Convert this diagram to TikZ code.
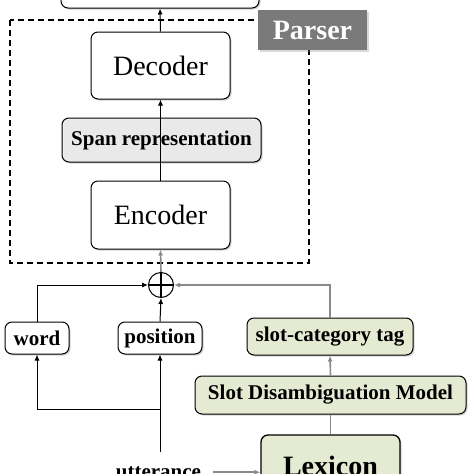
\documentclass[tikz,border=0pt]{standalone}
\usepackage{fontspec}
\setmainfont{Liberation Serif}
\usetikzlibrary{arrows.meta,positioning,calc,shadows}

\definecolor{slotgreen}{RGB}{229,235,211}
\definecolor{parsergray}{RGB}{122,122,122}
\definecolor{linkgray}{RGB}{138,138,138}
\definecolor{spangray}{RGB}{238,238,238}

\begin{document}
\begin{tikzpicture}[x=1pt,y=-1pt,
	box/.style={draw, rounded corners=7pt, line width=1pt, fill=white, inner sep=0pt,
		drop shadow={shadow xshift=1.5pt, shadow yshift=-1.5pt, opacity=0.35, fill=gray}},
	bigbox/.style={box, font=\fontsize{28}{32}\selectfont},
	tagbox/.style={box, font=\fontsize{21}{25}\selectfont\bfseries},
	greenbox/.style={tagbox, fill=slotgreen},
	blk/.style={-{Latex[length=6pt,width=5pt]}, line width=1pt},
	gry/.style={-{Latex[length=6pt,width=5pt]}, line width=1.6pt, linkgray},
	gryline/.style={line width=1.6pt, linkgray}]
			\useasboundingbox (0,0) rectangle (474,474);
			\clip (0,0) rectangle (474,474);
			
			% Parser frame
			\draw[line width=1.4pt, dash pattern=on 6pt off 4pt] (10,20) rectangle (309,263);
			\node[fill=parsergray, text=white, font=\fontsize{28}{32}\selectfont\bfseries,
				minimum width=109pt, minimum height=40pt, inner sep=0pt,
				drop shadow={shadow xshift=1.5pt, shadow yshift=-1.5pt, opacity=0.3, fill=gray}]
				(parser) at (312.5,30) {Parser};
			
			% Parser blocks
			\node[box, minimum width=198pt, minimum height=40pt] (output) at (160,-12) {};
			\node[bigbox, minimum width=139pt, minimum height=67pt] (decoder) at (160.5,65.5) {Decoder};
			\node[bigbox, minimum width=139pt, minimum height=68pt] (encoder) at (160.5,215) {Encoder};
			\draw[blk] (encoder.north) -- (decoder.south);
			\node[tagbox, fill=spangray, fill opacity=0.85, text opacity=1, minimum width=199pt, minimum height=44pt] (span) at (161.5,140) {Span representation};
			\draw[line width=1pt] (span.north -| encoder.north) -- (span.south -| encoder.north);
			\draw[blk] (decoder.north) -- (output.south);
			
			% Sum of embeddings
			\node[circle, draw, line width=1pt, fill=white, minimum size=25pt, inner sep=0pt] (sum) at (161,285) {};
			\draw[line width=1.2pt] (sum.north) -- (sum.south) (sum.west) -- (sum.east);
			\draw[gry] (sum.north) -- (encoder.south);
			
			% Inputs
			\node[tagbox, minimum width=64pt, minimum height=32pt] (word) at (37,338) {word};
			\node[tagbox, minimum width=84pt, minimum height=32pt] (position) at (160,338) {position};
			\node[font=\fontsize{21}{25}\selectfont\bfseries, anchor=base] (utt) at (158.5,478) {utterance};
			\coordinate (split) at (160,409);
			\draw[blk] (word.north) |- (sum.west);
			\draw[blk] (position.north) -- (sum.south);
			\draw[blk, shorten <=11pt] (utt.north -| position.south) -- (position.south);
			\draw[blk] (split) -| (word.south);
			
			% Lexicon branch
			\node[greenbox, minimum width=166pt, minimum height=37pt] (slot) at (330,336.5) {slot-category tag};
			\node[greenbox, minimum width=271pt, minimum height=38pt] (sdm) at (330.5,395) {Slot Disambiguation Model};
			\node[box, fill=slotgreen, line width=1.3pt, font=\fontsize{28}{32}\selectfont\bfseries,
				minimum width=139pt, minimum height=62pt] (lexicon) at (330.5,466) {Lexicon};
			\draw[gryline] (lexicon.north) -- (sdm.south);
			\draw[gry] (sdm.north) -- (slot.south);
			\draw[gry] (slot.north) |- (sum.east);
			\draw[gry, shorten <=8pt] (utt.east) -- (utt.east -| lexicon.west);
		\end{tikzpicture}
\end{document}
